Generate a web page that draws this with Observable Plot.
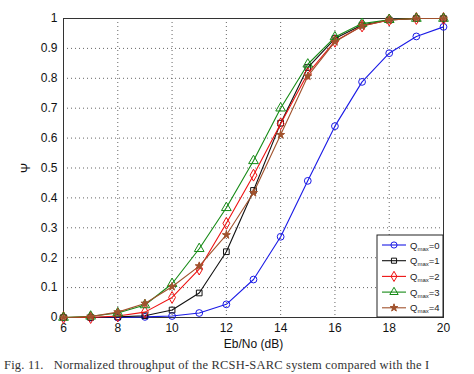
<!DOCTYPE html>
<html>
<head>
<meta charset="utf-8">
<script src="https://cdn.jsdelivr.net/npm/d3@7"></script>
<script src="https://cdn.jsdelivr.net/npm/@observablehq/plot@0.6"></script>
<style>
  html, body { margin: 0; padding: 0; background: #fff; }
  body { width: 474px; height: 374px; overflow: hidden; position: relative; font-family: "Liberation Sans", Arial, sans-serif; }
  #chart { position: absolute; left: 0; top: 0; }
  #caption { position: absolute; left: 4px; top: 358px; font-family: "Liberation Serif", "DejaVu Serif", serif; font-size: 12.5px; line-height: 14px; color: #333; white-space: nowrap; letter-spacing: 0.2px; }
</style>
</head>
<body>
<div id="chart"></div>
<div id="caption">Fig. 11.&nbsp;&nbsp; Normalized throughput of the RCSH-SARC system compared with the I</div>
<script>
const ebno = [6, 7, 8, 9, 10, 11, 12, 13, 14, 15, 16, 17, 18, 19, 20];
const q0 = [0, 0, 0, 0.002, 0.005, 0.015, 0.044, 0.127, 0.27, 0.457, 0.64, 0.788, 0.884, 0.94, 0.972];
const q1 = [0, 0, 0.002, 0.006, 0.025, 0.082, 0.22, 0.425, 0.65, 0.836, 0.933, 0.978, 0.995, 1, 1];
const q2 = [0, 0, 0.005, 0.018, 0.067, 0.162, 0.315, 0.476, 0.648, 0.816, 0.924, 0.975, 0.995, 1, 1];
const q3 = [0, 0.004, 0.015, 0.042, 0.113, 0.23, 0.367, 0.524, 0.70, 0.847, 0.938, 0.983, 0.996, 1, 1];
const q4 = [0, 0.003, 0.018, 0.047, 0.103, 0.172, 0.276, 0.417, 0.611, 0.807, 0.922, 0.975, 0.995, 1, 1];
const seriesNames = ["0", "1", "2", "3", "4"];
const xTicks = [6, 8, 10, 12, 14, 16, 18, 20];
const yTicks = [0, 0.1, 0.2, 0.3, 0.4, 0.5, 0.6, 0.7, 0.8, 0.9, 1];

const colors = ["#1a1ae6", "#111111", "#ee1111", "#158a15", "#a0522d"];
const symbols = ["circle", "square", "diamond", "triangle", "star"];
const fills = ["none", "none", "none", "none", "#a0522d"];
const radii = [3.4, 3.2, 3.6, 3.6, 2.5];

const allSeries = [q0, q1, q2, q3, q4];
const data = [];
allSeries.forEach((vals, s) => vals.forEach((v, i) => data.push({x: ebno[i], y: v, s})));

const W = 474, H = 350;
const marks = [
  Plot.gridX(xTicks, {stroke: "#555", strokeOpacity: 0.9, strokeDasharray: "1,3", strokeWidth: 1}),
  Plot.gridY(yTicks, {stroke: "#555", strokeOpacity: 0.9, strokeDasharray: "1,3", strokeWidth: 1}),
  Plot.axisX({ticks: xTicks, tickSize: 0, tickPadding: 6, fontSize: 12, label: "Eb/No (dB)", labelAnchor: "center", labelArrow: "none", labelOffset: 30, fill: "#111"}),
  Plot.axisY({ticks: yTicks, tickSize: 0, tickPadding: 6, fontSize: 12, tickFormat: d => String(+d.toFixed(1)), label: "Ψ", labelAnchor: "center", labelArrow: "none", labelOffset: 42, fill: "#111"}),
  Plot.frame({stroke: "#333", strokeWidth: 1})
];
allSeries.forEach((vals, s) => {
  const d = data.filter(p => p.s === s);
  marks.push(Plot.line(d, {x: "x", y: "y", stroke: colors[s], strokeWidth: 1.1}));
  marks.push(Plot.dot(d, {x: "x", y: "y", symbol: () => symbols[s], stroke: colors[s], fill: fills[s], r: radii[s], strokeWidth: 1}));
});

const plot = Plot.plot({
  width: W, height: H,
  marginLeft: 63, marginRight: 31, marginTop: 18, marginBottom: 33,
  x: {domain: [6, 20]},
  y: {domain: [0, 1]},
  symbol: {type: "identity"},
  style: {fontFamily: "Liberation Sans, Arial, sans-serif", fontSize: "12px", background: "#fff", overflow: "visible"},
  marks
});
document.getElementById("chart").appendChild(plot);

// Legend drawn into the plot's SVG
const svg = d3.select(plot);
const lx = 377, ly = 235, lw = 66, lh = 82;
const g = svg.append("g").attr("font-family", "Liberation Sans, Arial, sans-serif").attr("font-size", 9.5).attr("text-anchor", "start");
g.append("rect").attr("x", lx).attr("y", ly).attr("width", lw).attr("height", lh).attr("fill", "#fff").attr("stroke", "#222").attr("stroke-width", 1);
const symGen = {
  circle: d3.symbolCircle, square: d3.symbolSquare, diamond: d3.symbolDiamond, triangle: d3.symbolTriangle, star: d3.symbolStar
};
const symSize = [30, 26, 30, 30, 18];
seriesNames.forEach((name, s) => {
  const yy = ly + 10 + s * 15.7;
  g.append("line").attr("x1", lx + 5).attr("x2", lx + 29).attr("y1", yy).attr("y2", yy).attr("stroke", colors[s]).attr("stroke-width", 1.1);
  g.append("path").attr("d", d3.symbol(symGen[symbols[s]], symSize[s])()).attr("transform", `translate(${lx + 17},${yy})`)
    .attr("fill", fills[s]).attr("stroke", colors[s]).attr("stroke-width", 1);
  const t = g.append("text").attr("x", lx + 33).attr("y", yy + 3.5).attr("fill", "#222").attr("text-anchor", "start");
  t.append("tspan").text("Q");
  t.append("tspan").attr("font-size", 6).attr("dy", 2).text("max");
  t.append("tspan").attr("dy", -2).text("=" + name);
});
</script>
</body>
</html>
